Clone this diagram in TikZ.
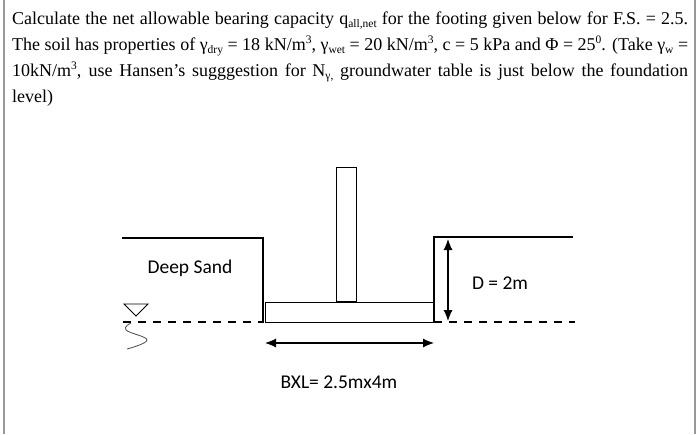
\documentclass[tikz,border=0pt]{standalone}
\usepackage{fontspec}
\setmainfont{Liberation Serif}
\newfontfamily\calib{Carlito}
\begin{document}
\begin{tikzpicture}[x=1pt,y=-1pt,
  ground/.style={line width=2pt,line cap=rect},
  thin/.style={line width=0.9pt},
  wt/.style={line width=2.2pt,dash pattern=on 8pt off 7pt},
  dim/.style={line width=1.1pt,{Latex[length=11pt,width=9pt]}-{Latex[length=11pt,width=9pt]}},
  lbl/.style={font=\calib\fontsize{19.5}{21}\selectfont,inner sep=0pt}]
\usetikzlibrary{arrows.meta}
\path[use as bounding box] (0,0) rectangle (700,434);
\fill[white] (0,0) rectangle (700,434);
\draw[gray!80,line width=2pt] (4,0) -- (4,434);
\draw[gray!80,line width=2pt] (695,0) -- (695,434);
\newcommand{\sbs}[1]{\raisebox{-3pt}{\fontsize{11.5}{12}\selectfont #1}}
\newcommand{\sps}[1]{\raisebox{7pt}{\fontsize{11.5}{12}\selectfont #1}}
\tikzset{tl/.style={anchor=base west,inner sep=0pt,font=\fontsize{18}{22}\selectfont}}
\node[tl] (l1) at (12,24) {\hbox to 676pt{Calculate the net allowable bearing capacity q\sbs{all,net} for the footing given below for F.S. = 2.5.}};
\node[tl] (l2) at (12,50) {\hbox to 676pt{The soil has properties of γ\sbs{dry} = 18 kN/m\sps{3}, γ\sbs{wet} = 20 kN/m\sps{3}, c = 5 kPa and Φ = 25\sps{0}. (Take γ\sbs{w} =}};
\node[tl] (l3) at (12,76) {\hbox to 676pt{10kN/m\sps{3}, use Hansen’s sugggestion for N\sbs{γ,} groundwater table is just below the foundation}};
\node[tl] (l4) at (12,102) {level)};
% geometry
\coordinate (gl1) at (123,238); \coordinate (gl2) at (263,238);
\coordinate (wl) at (263,322);
\coordinate (gr1) at (434,237); \coordinate (gr2) at (572,237);
\coordinate (wr) at (434,322);
\draw[ground] (gl1) -- (gl2) -- (wl);
\draw[ground] (wr) -- (gr1) -- (gr2);
\node[draw,thin,minimum width=169pt,minimum height=20pt,inner sep=0pt,anchor=north west] (foot) at (265,302) {};
\node[draw,thin,minimum width=20pt,minimum height=134pt,inner sep=0pt,anchor=south west] (col) at (336,302) {};
\coordinate (wa) at (123,322); \coordinate (wb) at (575,322);
\draw[wt] (wa) -- (wl);
\draw[wt] (wr) -- (wb);
\coordinate (b1) at (265,343); \coordinate (b2) at (434,343);
\draw[dim] (b1) -- (b2);
\coordinate (d1) at (448,239); \coordinate (d2) at (448,321);
\draw[dim] (d1) -- (d2);
\node[lbl] (ds) at (190,268) {Deep Sand};
\node[lbl] (dd) at (500,283) {D = 2m};
\node[lbl] (bxl) at (339,382) {BXL= 2.5mx4m};
% water symbol
\draw[thin] (124,304) -- (148,304) -- (136,316) -- cycle;
\draw[line width=0.8pt,gray!60!black] plot[smooth,tension=0.7] coordinates {(131,323) (126,330) (147,340) (127,349)};
\end{tikzpicture}
\end{document}
